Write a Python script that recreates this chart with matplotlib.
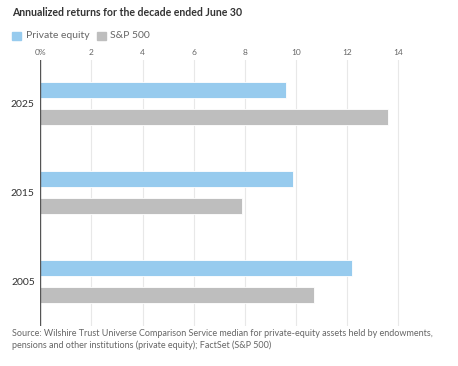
import matplotlib
matplotlib.use("Agg")
import matplotlib.pyplot as plt
import numpy as np
from matplotlib.patches import Rectangle

# Data
decades = ["2025", "2015", "2005"]
private_equity = [9.6, 9.9, 12.2]
sp500 = [13.6, 7.9, 10.7]
x_ticks = [0, 2, 4, 6, 8, 10, 12, 14]
x_tick_labels = ["0%", "2", "4", "6", "8", "10", "12", "14"]

BLUE = "#97cbee"
GRAY = "#bebebe"
TEXT = "#333333"
MUTED = "#666666"

plt.rcParams["font.family"] = ["Lato", "DejaVu Sans"]

W, H = 458, 366
fig = plt.figure(figsize=(W / 100, H / 100), dpi=100)

# axes area in pixels: left 40.3, top 60, bottom 326
px_per_unit = 25.57
left_px, top_px, bot_px = 40.3, 60, 326
x_max = 16
ax = fig.add_axes([left_px / W, 1 - bot_px / H,
                   x_max * px_per_unit / W, (bot_px - top_px) / H])

y = np.arange(len(decades))
bar_h = 0.18
ax.barh(y - 0.152, private_equity, height=bar_h, color=BLUE,
        edgecolor="white", linewidth=0.6, zorder=3)
ax.barh(y + 0.148, sp500, height=bar_h, color=GRAY,
        edgecolor="white", linewidth=0.6, zorder=3)

ax.set_xlim(0, x_max)
ax.set_ylim(2.495, -0.494)

ax.xaxis.tick_top()
ax.set_xticks(x_ticks)
ax.set_xticklabels(x_tick_labels, fontsize=6, color=MUTED)
ax.tick_params(axis="x", length=0, pad=3)
ax.set_yticks(y)
ax.set_yticklabels(decades, fontsize=7.5, color=TEXT)
ax.tick_params(axis="y", length=0, pad=4)

for t in x_ticks[1:]:
    ax.axvline(t, color="#e8e8e8", linewidth=0.8, zorder=1)
ax.axvline(0, color="#555555", linewidth=1.0, zorder=4)

for s in ax.spines.values():
    s.set_visible(False)

# title
fig.text(12 / W, 1 - 13 / H, "Annualized returns for the decade ended June 30",
         fontsize=7.6, fontweight="bold", color=TEXT, va="center", ha="left")

# legend
legend_items = [("Private equity", BLUE, 12), ("S&P 500", GRAY, 97)]
for label, color, x0 in legend_items:
    fig.patches.append(Rectangle((x0 / W, 1 - 40 / H), 8.5 / W, 8.5 / H,
                                 transform=fig.transFigure, color=color))
    fig.text((x0 + 13.5) / W, 1 - 36 / H, label, fontsize=7.5,
             color=MUTED, va="center", ha="left")

# source
fig.text(12 / W, 1 - 333 / H,
         "Source: Wilshire Trust Universe Comparison Service median for private-equity assets held by endowments,",
         fontsize=6.45, color=MUTED, va="center", ha="left")
fig.text(12 / W, 1 - 345 / H,
         "pensions and other institutions (private equity); FactSet (S&P 500)",
         fontsize=6.45, color=MUTED, va="center", ha="left")

fig.savefig("out.png", dpi=100)
